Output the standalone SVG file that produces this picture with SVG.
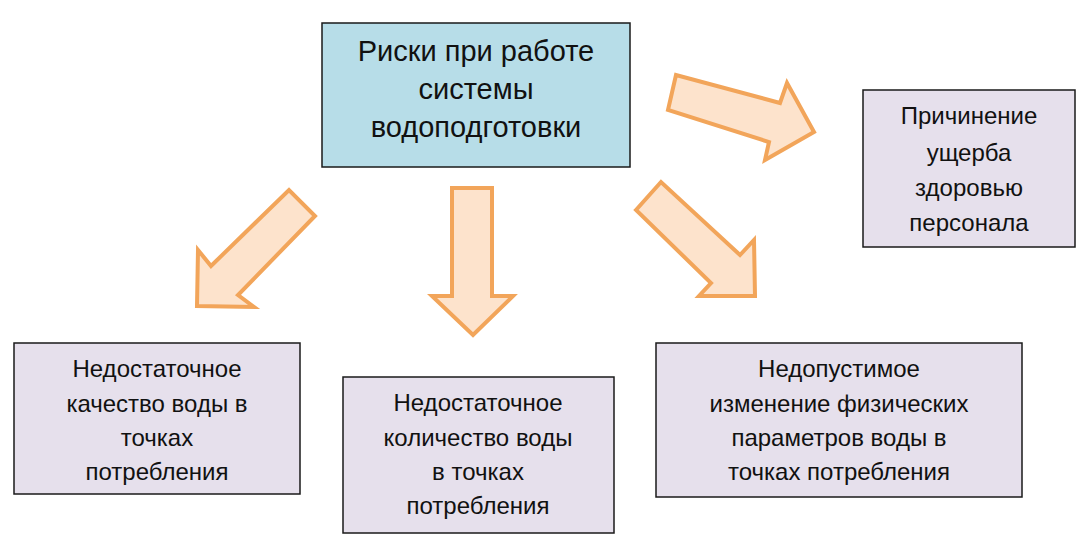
<svg xmlns="http://www.w3.org/2000/svg" width="1087" height="541" viewBox="0 0 1087 541">
<style>
.b{fill:#e6e0ec;stroke:#1a1a1a;stroke-width:1.5}
.t{fill:#b7dde8;stroke:#1a1a1a;stroke-width:1.5}
text{font-family:"Liberation Sans",Arial,sans-serif;font-size:24px;fill:#111;text-anchor:middle}
.a{fill:#fde3cc;stroke:#f2a55a;stroke-width:4;stroke-linejoin:miter}
</style>
<rect width="1087" height="541" fill="#fff"/>
<g id="top"><rect class="t" x="322" y="23" width="308" height="144"/>
<text x="476" y="61" style="font-size:29px">Риски при работе</text>
<text x="476" y="99" style="font-size:29px">системы</text>
<text x="476" y="137" style="font-size:29px">водоподготовки</text></g>
<g id="n1"><rect class="b" x="863" y="90" width="212" height="157"/>
<text x="969" y="124">Причинение</text><text x="969" y="161">ущерба</text><text x="969" y="196">здоровью</text><text x="969" y="231">персонала</text></g>
<g id="n2"><rect class="b" x="14" y="343" width="286" height="151"/>
<text x="157" y="377">Недостаточное</text><text x="157" y="412">качество воды в</text><text x="157" y="446">точках</text><text x="157" y="480">потребления</text></g>
<g id="n3"><rect class="b" x="343" y="377" width="271" height="156"/>
<text x="478" y="411">Недостаточное</text><text x="478" y="446">количество воды</text><text x="478" y="480">в точках</text><text x="478" y="514">потребления</text></g>
<g id="n4"><rect class="b" x="656" y="343" width="366" height="154"/>
<text x="839" y="377">Недопустимое</text><text x="839" y="412">изменение  физических</text><text x="839" y="446">параметров воды в</text><text x="839" y="480">точках потребления</text></g>
<g id="connectors">
<polygon class="a" points="668,110 676,75 780,103 787,83 814,132 765,160 769,142"/>
<polygon class="a" points="197,306 198,250 211,266 289,190 315,216 238,295 254,307"/>
<polygon class="a" points="452,188 492,188 492,296 513,296 473,335 432,296 452,296"/>
<polygon class="a" points="636,210 661,182 740,255 754,240 755,296 699,296 711,283"/>
</g>
</svg>
